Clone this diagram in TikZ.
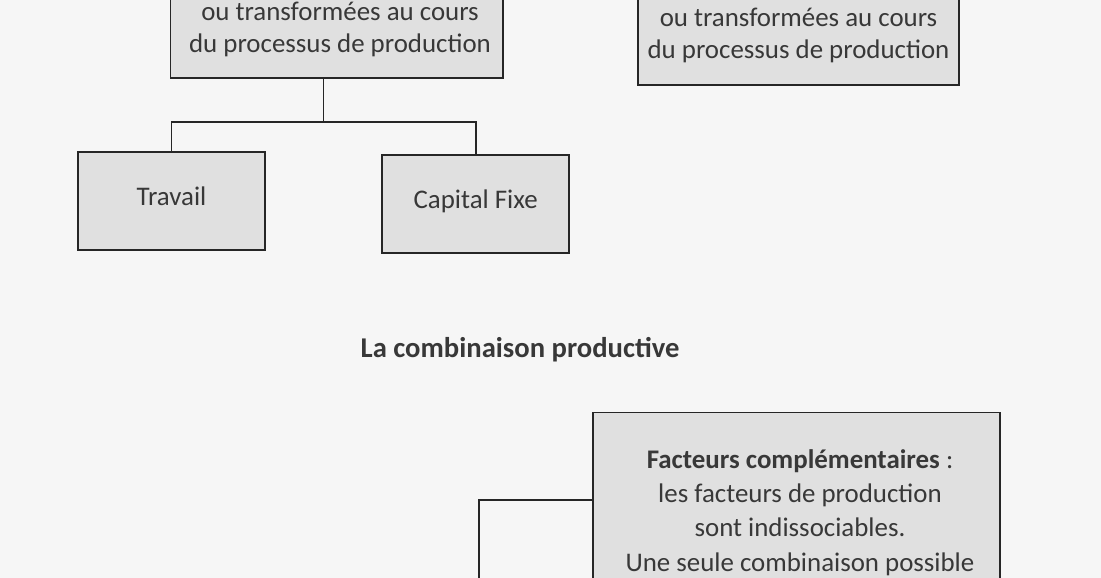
\documentclass[tikz,border=0pt]{standalone}
\usepackage{fontspec}
\setmainfont{Carlito}
\usetikzlibrary{positioning, calc}
\definecolor{paper}{gray}{0.965}
\definecolor{boxgray}{gray}{0.88}
\definecolor{ink}{gray}{0.22}

\begin{document}
\begin{tikzpicture}[
    graybox/.style={draw=black!85, line width=0.95pt, fill=boxgray, inner sep=0pt},
    leaf/.style={graybox, minimum width=3.74cm, minimum height=1.96cm, text=ink, text height=0.38cm, text depth=0.2cm},
    boxtext/.style={align=center, text=ink, inner sep=0pt},
    link/.style={draw=black!85, line width=0.95pt},
    font=\fontsize{15.3}{18.2}\selectfont
]

% Page
\useasboundingbox (0,0) rectangle (22.02,-11.56);
\fill[paper] (0,0) rectangle (22.02,-11.56);

% Top boxes (cut by the page edge)
\node (circL) [graybox, minimum width=6.65cm, minimum height=3cm, anchor=south] at (6.735,-1.58) {};
\node (circLtxt) [boxtext] at (6.8,-0.58) {ou transformées au cours\\du processus de production};
\node (circR) [graybox, minimum width=6.42cm, minimum height=3cm, anchor=south] at (15.97,-1.72) {};
\node (circRtxt) [boxtext] at (15.97,-0.70) {ou transformées au cours\\du processus de production};

% Travail and Capital Fixe
\node (trav) [leaf] at (3.43,-4.02) {Travail};
\node (capf) [leaf, right=2.31cm of trav, yshift=-0.064cm] {Capital Fixe};

\coordinate (fork) at ($(trav.north)!0.5!(capf.north) + (0,0.61)$);
\draw[link] (trav.north) |- (fork) -| (capf.north);
\draw[link] (fork) -- (fork |- circL.south);

% Title
\node (title) [text=ink, font=\fontsize{16.3}{19}\selectfont\bfseries] at (10.4,-7.0) {La combinaison productive};

% Complementary factors
\node (compl) [graybox, minimum width=8.146cm, minimum height=4cm, anchor=north] at (15.927,-8.234) {};
\node (complTxt) [boxtext, font=\fontsize{15.3}{19.6}\selectfont] at (16.0,-10.25) {\textbf{Facteurs complémentaires} :\\les facteurs de production\\sont indissociables.\\Une seule combinaison possible};

\coordinate (elbow) at (9.58,-10.0);
\coordinate (tail) at (9.58,-11.8);
\draw[link] (elbow -| compl.west) -- (elbow) -- (tail);

\end{tikzpicture}
\end{document}
